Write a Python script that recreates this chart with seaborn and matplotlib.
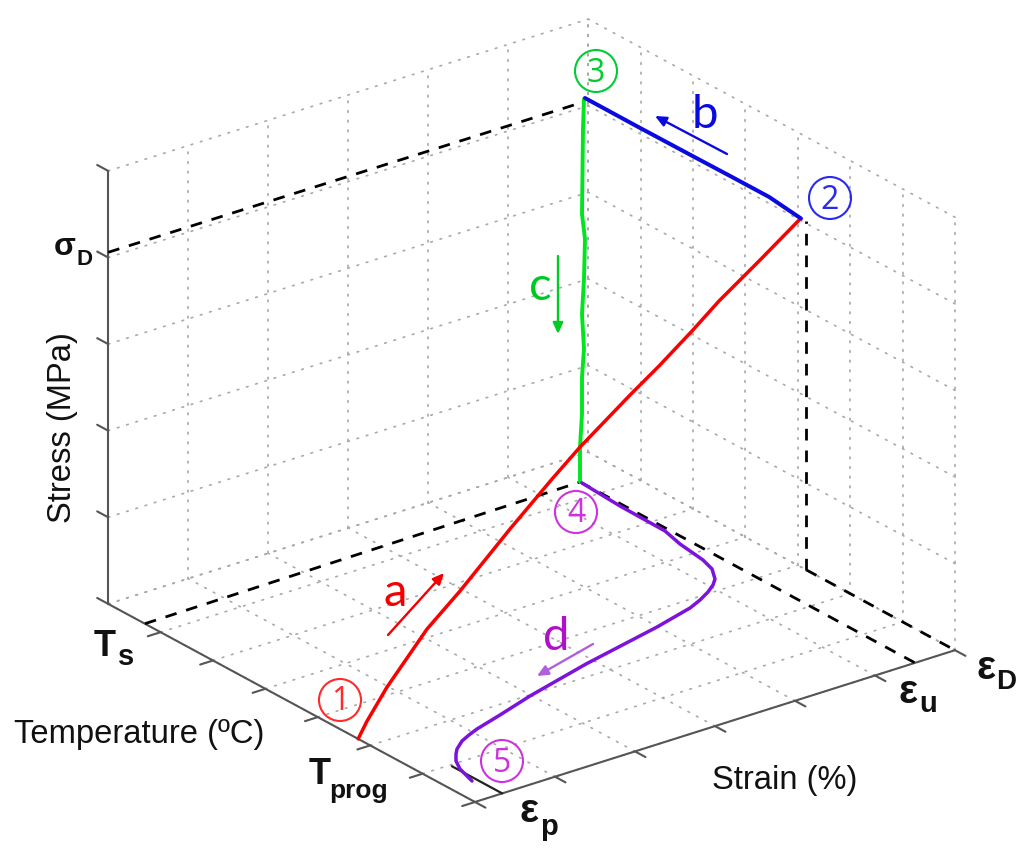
import matplotlib
matplotlib.use("Agg")
import matplotlib.pyplot as plt
from matplotlib.patches import Circle
import numpy as np
import pandas as pd
import seaborn as sns

# ---- data, in axis units (strain, temperature, stress divisions) ----
strain_ticks = [0, 1, 2, 3, 4, 5, 6]
temp_ticks = [0, 1, 2, 3, 4, 5, 6, 7]
stress_ticks = [0, 1, 2, 3, 4, 5]

red_strain = [0, .11, .361, .861, 1.274, 1.899, 2.424, 2.774, 3.399, 3.761, 4.174, 4.511, 5.011, 5.524]
red_temp = [2.23] * 14
red_stress = [0, .172, .493, 1.017, 1.336, 1.87, 2.293, 2.56, 2.978, 3.207, 3.491, 3.739, 4.054, 4.389]

blue_strain = [5.5] * 6
blue_temp = [6.298, 5.305, 4.313, 3.492, 2.786, 2.176]
blue_stress = [4.464, 4.462, 4.465, 4.469, 4.47, 4.42]

green_strain = [5.5] * 11
green_temp = [6.317, 6.336, 6.355, 6.298, 6.317, 6.355, 6.317, 6.355, 6.355, 6.393, 6.393]
green_stress = [4.446, 4.093, 3.106, 2.836, 2.367, 1.951, 1.559, 1.224, .797, .403, 0]

purple_strain = [5.5, 5.464, 5.454, 5.382, 5.33, 5.27, 5.147, 5.044, 4.902, 4.723, 4.527, 3.989,
                 2.889, 1.981, 1.467, 1.081, .931, .788, .632, .551, .449, .363, .283]
purple_temp = [6.355, 5.575, 4.7, 4.305, 3.786, 3.522, 3.278, 3.159, 3.038, 2.916, 2.808, 2.617,
               2.293, 1.975, 1.763, 1.613, 1.536, 1.451, 1.308, 1.204, 1.048, .841, .489]
purple_stress = [0] * 23

# dashed guides: (strain, temperature, stress) end points
guide_sigma = ([0, 5.85], [7, 7], [4.06, 4.06])
guide_temp_low = ([0, 5.5], [6.3, 6.39], [0, 0])
guide_eps_u = ([5.5, 5.5], [6.39, 0], [0, 0])
guide_eps_d = ([6, 6], [2.84, 0], [0, 0])
guide_vert = ([6, 6], [2.84, 2.84], [0, 4.03])
guide_eps_p = ([.34, .34], [0, .96], [0, 0])

# ---- oblique view of the box ----
ORIGIN = (475.0, 803.0)
S_VEC = (80.0, -25.3)
T_VEC = (-52.4, -28.3)
Z_VEC = (0.0, -86.6)


def view(s, t, z):
    s, t, z = np.asarray(s, float), np.asarray(t, float), np.asarray(z, float)
    return (ORIGIN[0] + S_VEC[0] * s + T_VEC[0] * t + Z_VEC[0] * z,
            ORIGIN[1] + S_VEC[1] * s + T_VEC[1] * t + Z_VEC[1] * z)


sns.set_theme(style="white", rc={"font.family": ["Liberation Sans", "DejaVu Sans"]})
fig = plt.figure(figsize=(10.24, 8.53), dpi=100, facecolor="white")
ax = fig.add_axes([0, 0, 1, 1])


def draw(s, t, z, **kw):
    x, y = view(s, t, z)
    kw.setdefault("solid_capstyle", "round")
    frame = pd.DataFrame({"x": x, "y": y})
    sns.lineplot(data=frame, x="x", y="y", sort=False, estimator=None, ax=ax, legend=False, **kw)


# grid
grid = dict(color="#a8a8a8", lw=1.2, linestyle=(0, (1, 4.8)), zorder=1, dash_capstyle="round")
S0, S1 = strain_ticks[0], strain_ticks[-1]
T0, T1 = temp_ticks[0], temp_ticks[-1]
Z0, Z1 = stress_ticks[0], stress_ticks[-1]
for s in strain_ticks:
    draw([s, s], [T0, T1], [Z0, Z0], **grid)
    draw([s, s], [T1, T1], [Z0, Z1], **grid)
for t in temp_ticks:
    draw([S0, S1], [t, t], [Z0, Z0], **grid)
    draw([S1, S1], [t, t], [Z0, Z1], **grid)
for z in stress_ticks:
    draw([S0, S1], [T1, T1], [z, z], **grid)
    draw([S1, S1], [T0, T1], [z, z], **grid)

# axes and ticks
axis = dict(color="#555555", lw=1.5, zorder=2)
draw([S0, S0], [T1, T1], [Z0, Z1], **axis)
draw([S0, S0], [T0, T1], [Z0, Z0], **axis)
draw([S0, S1], [T0, T0], [Z0, Z0], **axis)
for z in stress_ticks:
    draw([S0, S0], [T1, T1 + .21], [z, z], **axis)
for t in temp_ticks[:-1]:
    draw([S0, S0 - .16], [t, t], [Z0, Z0], **axis)
for s in strain_ticks:
    draw([s, s], [T0, T0 - .2], [Z0, Z0], **axis)

# dashed guides
dash = dict(color="black", lw=2.0, linestyle=(0, (4.2, 3.6)), zorder=3, dash_capstyle="butt")
for g in (guide_sigma, guide_temp_low, guide_eps_u, guide_eps_d, guide_vert):
    draw(*g, **dash)
draw(*guide_eps_p, color="#222222", lw=1.6, zorder=3)

# curves
draw(green_strain, green_temp, green_stress, color="#00e51e", lw=2.8, zorder=4)
draw(red_strain, red_temp, red_stress, color="#fa0000", lw=2.5, zorder=5)
draw(purple_strain, purple_temp, purple_stress, color="#7d12dc", lw=2.5, zorder=5)
draw(blue_strain, blue_temp, blue_stress, color="#0a0ae0", lw=2.9, zorder=6)

# circled step markers
steps = [("1", 340, 701, "#ff2a2a"), ("2", 830, 199, "#2a2aee"), ("3", 596, 72, "#00cc33"),
         ("4", 576, 513, "#cc33dd"), ("5", 502, 762, "#cc33dd")]
for label, cx, cy, col in steps:
    ax.add_patch(Circle((cx, cy), 21, fill=False, edgecolor=col, lw=1.5, zorder=7))
    ax.text(cx, cy + 1, label, color=col, fontsize=23, family="Open Sans", ha="center", va="center", zorder=8)

# phase arrows and letters
arrows = [((388, 636), (444, 574), "#f40000"), ((727, 155), (655, 117), "#0a0ae0"),
          ((558, 257), (558, 335), "#00cc22"), ((593, 645), (537, 677), "#b060d8")]
for start, end, col in arrows:
    ax.annotate("", xy=end, xytext=start, zorder=7,
                arrowprops=dict(arrowstyle="-|>,head_length=0.55,head_width=0.25", color=col, lw=1.7,
                                shrinkA=0, shrinkB=0))
for label, x, y, col in [("a", 395, 593, "#f40000"), ("b", 705, 115, "#0a0ae0"),
                         ("c", 540, 287, "#00c822"), ("d", 556, 637, "#b010c8")]:
    ax.text(x, y, label, color=col, fontsize=34, family="Lato", ha="center", va="center", zorder=8)

# axis titles
title = dict(color="#111111", fontsize=23.6, ha="center", va="center")
ax.text(62, 428, "Stress (MPa)", rotation=90, **title)
ax.text(139, 734, "Temperature (ºC)", **title)
ax.text(785, 781, "Strain (%)", **title)

# bold tick labels: main symbol then subscript
big = dict(color="#111111", fontweight="bold", ha="center", va="center")
for main, sub, mx, my, msize, sx, sy, ssize in [
    ("σ", "D", 65, 247, 23, 85, 259, 16),
    ("T", "s", 105, 646, 26, 126, 657, 21),
    ("T", "prog", 320, 775, 26, 359, 791, 19),
    ("ε", "p", 529, 811, 29, 549, 827, 21),
    ("ε", "u", 908, 692, 29, 928, 704, 21),
    ("ε", "D", 986, 668, 29, 1006, 682, 20),
]:
    ax.text(mx, my, main, fontsize=msize, **big)
    ax.text(sx, sy, sub, fontsize=ssize, **big)

ax.set_xlim(0, 1024)
ax.set_ylim(853, 0)
ax.set_axis_off()
fig.savefig("out.png", dpi=100, facecolor="white")
